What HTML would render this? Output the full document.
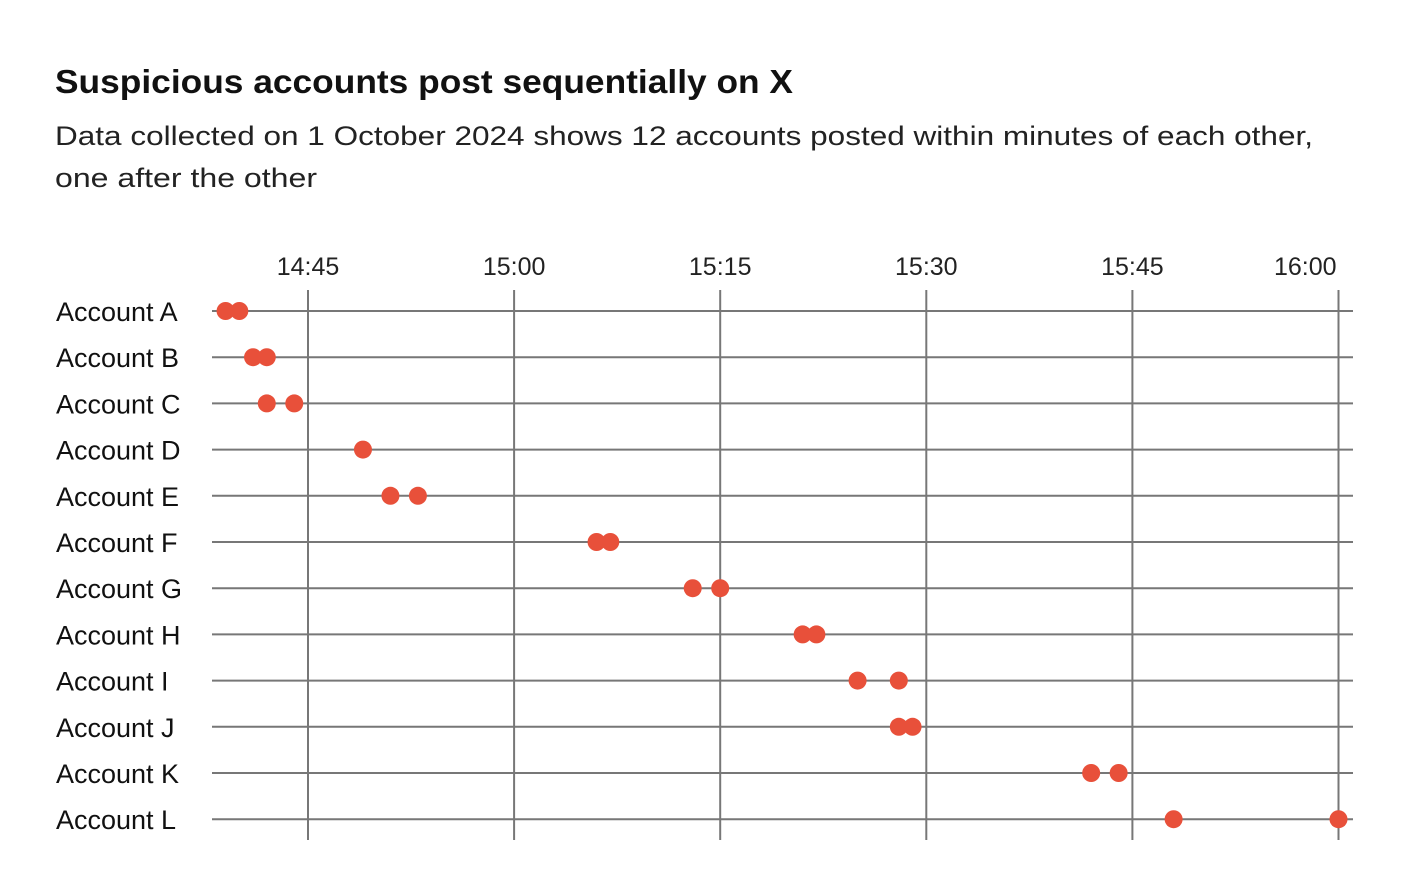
<!DOCTYPE html>
<html><head><meta charset="utf-8"><style>
html,body{margin:0;padding:0;background:#fff;}
svg{display:block;font-family:"Liberation Sans",sans-serif;}
</style></head><body>
<svg width="1408" height="894">
<text x="55" y="93" font-size="33" font-weight="bold" fill="#111" textLength="738" lengthAdjust="spacingAndGlyphs">Suspicious accounts post sequentially on X</text>
<text x="55" y="145" font-size="27" fill="#222" textLength="1258" lengthAdjust="spacingAndGlyphs">Data collected on 1 October 2024 shows 12 accounts posted within minutes of each other,</text>
<text x="55" y="187" font-size="27" fill="#222" textLength="262" lengthAdjust="spacingAndGlyphs">one after the other</text>
<g id="plot"></g>
</svg>
<script>
const accounts=["Account A","Account B","Account C","Account D","Account E","Account F","Account G","Account H","Account I","Account J","Account K","Account L"];
// post times in minutes after 14:00
const postTimes=[[39,40],[41,42],[42,44],[49],[51,53],[66,67],[73,75],[81,82],[85,88],[88,89],[102,104],[108,120]];
const tickValues=[45,60,75,90,105,120];
const tickLabels=["14:45","15:00","15:15","15:30","15:45","16:00"];
const NS="http://www.w3.org/2000/svg";
const g=document.getElementById('plot');
const xScale=m=>308+(m-45)*13.74;
const yScale=i=>311+i*46.2;
function mk(t,a){const e=document.createElementNS(NS,t);for(const k in a)e.setAttribute(k,a[k]);g.appendChild(e);return e;}
tickValues.forEach((v,i)=>{
  const x=xScale(v);
  const l=mk('line',{x1:x,x2:x,y1:290,y2:840,stroke:'#777','stroke-width':2});
  
  
  const last=i===tickValues.length-1;
  const t=mk('text',{x:last?x-2:x,y:275,'font-size':25,fill:'#222','text-anchor':last?'end':'middle'});
  t.textContent=tickLabels[i];
  
  
});
accounts.forEach((a,i)=>{
  const y=yScale(i);
  const l=mk('line',{x1:212,x2:1353,y1:y,y2:y,stroke:'#777','stroke-width':2});
  
  
  const t=mk('text',{x:56,y:y+10,'font-size':27,fill:'#111'});
  t.textContent=a;
  
  
});
accounts.forEach((a,i)=>{
  postTimes[i].forEach(m=>{
    const c=mk('circle',{cx:xScale(m),cy:yScale(i),r:9,fill:'#e8503a'});
    
    
  });
});
</script>
</body></html>
